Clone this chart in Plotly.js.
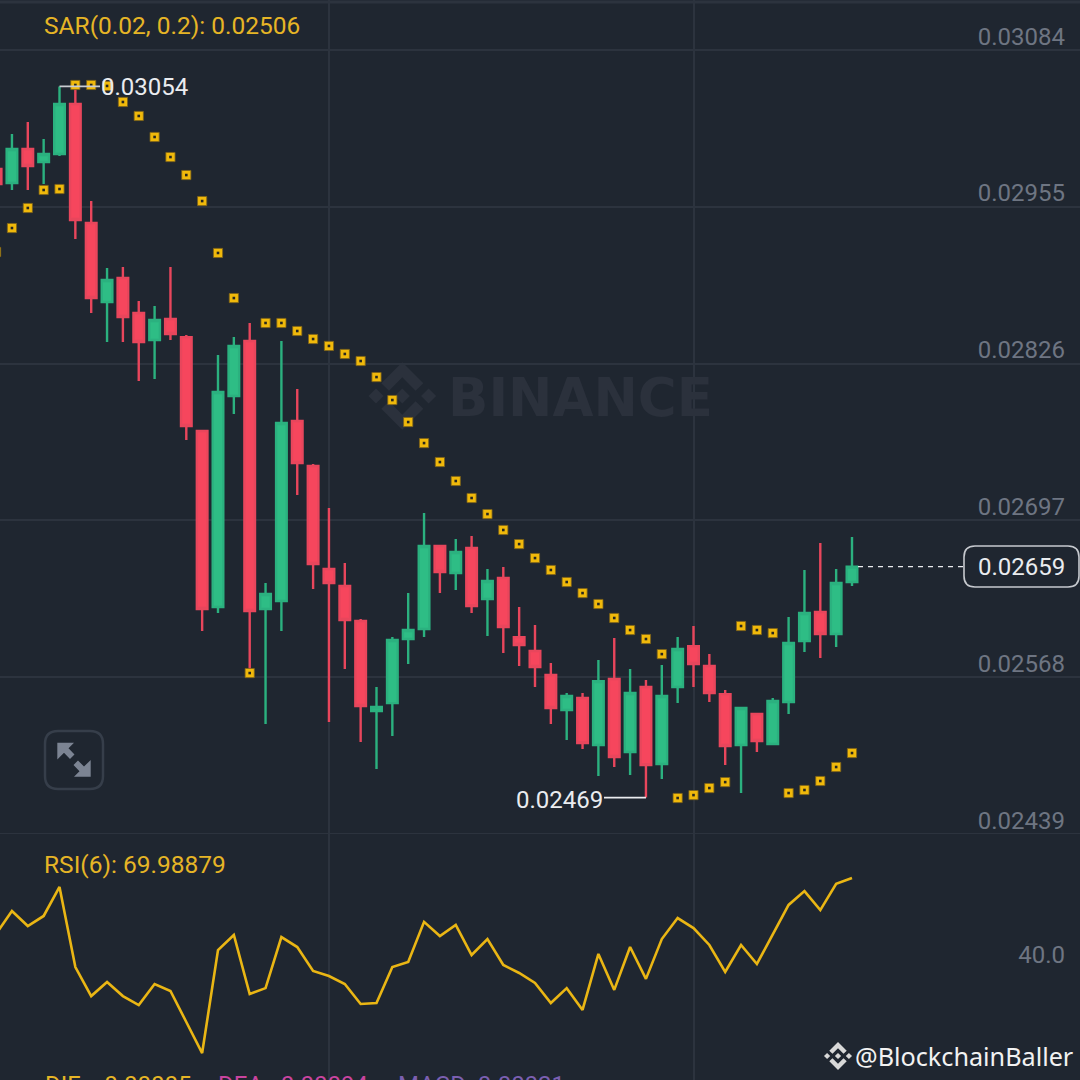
<!DOCTYPE html>
<html>
<head>
<meta charset="utf-8">
<script src="https://cdn.plot.ly/plotly-3.0.1.min.js"></script>
<style>html,body{margin:0;padding:0;background:#1f2630;overflow:hidden}#chart{width:1080px;height:1080px}</style>
</head>
<body>
<div id="chart"></div>
<script>
const opens = [0.029861,0.029746,0.030025,0.029918,0.029984,0.030395,0.029416,0.028766,0.028964,0.028676,0.028454,0.028627,0.028478,0.027705,0.026257,0.027993,0.028446,0.026241,0.026307,0.027787,0.027417,0.026570,0.026430,0.026142,0.025402,0.025467,0.025994,0.026076,0.026759,0.026537,0.026743,0.026323,0.026496,0.026010,0.025895,0.025698,0.025410,0.025509,0.025122,0.025665,0.025064,0.025599,0.024966,0.025599,0.025936,0.025772,0.025541,0.025122,0.025377,0.025130,0.025476,0.025977,0.026216,0.026035,0.026463];
const highs = [0.029935,0.030149,0.030247,0.030107,0.030540,0.030540,0.029597,0.029046,0.029054,0.028775,0.028734,0.029054,0.028495,0.027713,0.028330,0.028478,0.028594,0.026455,0.028446,0.028051,0.027434,0.027072,0.026619,0.026159,0.025599,0.026010,0.026372,0.027030,0.026767,0.026817,0.026841,0.026570,0.026586,0.026257,0.026109,0.025797,0.025550,0.025550,0.025821,0.026002,0.025747,0.025657,0.025780,0.026010,0.026101,0.025870,0.025574,0.025435,0.025385,0.025509,0.026175,0.026562,0.026784,0.026570,0.026833];
const lows = [0.029688,0.029688,0.029688,0.029737,0.029968,0.029285,0.028676,0.028437,0.028437,0.028116,0.028133,0.028454,0.027631,0.026060,0.026208,0.027845,0.025723,0.025295,0.026060,0.027179,0.026405,0.025311,0.025747,0.025147,0.024924,0.025196,0.025788,0.026010,0.026372,0.026397,0.026208,0.026019,0.025879,0.025772,0.025599,0.025295,0.025163,0.025089,0.024867,0.024941,0.024875,0.024690,0.024842,0.025467,0.025599,0.025476,0.024957,0.024727,0.025064,0.025122,0.025377,0.025887,0.025838,0.025928,0.026430];
const closes = [0.029737,0.030025,0.029885,0.029984,0.030395,0.029441,0.028799,0.028947,0.028643,0.028437,0.028618,0.028503,0.027746,0.026241,0.028026,0.028405,0.026224,0.026364,0.027771,0.027442,0.026611,0.026455,0.026150,0.025443,0.025435,0.025986,0.026068,0.026759,0.026545,0.026710,0.026265,0.026471,0.026093,0.025945,0.025764,0.025426,0.025525,0.025138,0.025648,0.025023,0.025550,0.024957,0.025525,0.025912,0.025788,0.025550,0.025114,0.025426,0.025155,0.025484,0.025961,0.026208,0.026035,0.026455,0.026590];
const sarValues = [0.029178,0.029375,0.029540,0.029688,0.029696,0.030552,0.030552,0.030544,0.030412,0.030297,0.030124,0.029959,0.029811,0.029597,0.029170,0.028799,0.025714,0.028594,0.028594,0.028528,0.028462,0.028405,0.028339,0.028281,0.028149,0.027960,0.027779,0.027606,0.027450,0.027294,0.027154,0.027022,0.026891,0.026775,0.026660,0.026562,0.026463,0.026372,0.026282,0.026167,0.026068,0.025994,0.025870,0.024686,0.024710,0.024768,0.024817,0.026101,0.026068,0.026043,0.024727,0.024752,0.024826,0.024941,0.025056];
const rsiValues = [48.2,57.1,51.3,55.2,66.5,35.3,24.0,29.5,24.0,20.5,28.7,26.0,13.9,1.8,41.9,47.8,24.8,27.1,47.0,43.1,33.8,31.8,28.7,20.9,21.3,35.3,37.3,52.9,47.4,51.7,40.0,46.2,36.1,33.0,29.1,21.3,27.1,18.6,40.4,26.4,43.1,30.7,46.2,54.4,50.5,43.9,33.4,43.9,36.5,47.8,59.5,64.9,57.5,67.7,69.99];
const priceTicks = [0.03084,0.02955,0.02826,0.02697,0.02568,0.02439];
const priceTickLabels = ["0.03084","0.02955","0.02826","0.02697","0.02568","0.02439"];
const rsiTicks = [40];
const rsiTickLabels = ["40.0"];
const timeGridIndex = [21,44];
const periodHigh = 0.03054, periodHighIndex = 4;
const periodLow = 0.02469, periodLowIndex = 41;
const lastPrice = 0.02659;

const BG='#1f2630', GRID='#2c333e', LABEL='#6e7582', YEL='#f0b90b', TXTYEL='#e6b526', UP='#2ebd85', DOWN='#f6465d', WHITE='#eaecef';
const W=1080,H=1080;
const px=(x,y)=>((x/W).toFixed(5)+','+(1-y/H).toFixed(5));
function poly(pts,cx,cy,s){return 'M'+pts.map(p=>px(cx+p[0]*s,cy+p[1]*s)).join(' L')+' Z';}
function logoPath(cx,cy,s){
  const d=(x,y,r)=>[[x,y-r],[x+r,y],[x,y+r],[x-r,y]];
  const top=[[0,-33.7],[21,-12.7],[13.3,-5.3],[0,-18.7],[-13.3,-5.3],[-21,-12.7]];
  const bot=top.map(p=>[p[0],-p[1]]);
  return [top,bot,d(0,0,7.5),d(-26.3,0,7.5),d(26.3,0,7.5)].map(a=>poly(a,cx,cy,s)).join(' ');
}
function roundRect(x0,y0,x1,y1,r){
  return 'M'+px(x0+r,y0)+' L'+px(x1-r,y0)+' Q'+px(x1,y0)+' '+px(x1,y0+r)+' L'+px(x1,y1-r)+' Q'+px(x1,y1)+' '+px(x1-r,y1)+' L'+px(x0+r,y1)+' Q'+px(x0,y1)+' '+px(x0,y1-r)+' L'+px(x0,y0+r)+' Q'+px(x0,y0)+' '+px(x0+r,y0)+' Z';
}
const idx=opens.map((_,i)=>i);
const xRange=[0.246,68.385];
const xAt=p=>xRange[0]+(p/W)*(xRange[1]-xRange[0]);

const traces=[
 {type:'candlestick',x:idx,open:opens,high:highs,low:lows,close:closes,xaxis:'x',yaxis:'y',whiskerwidth:0,
  increasing:{line:{color:'#2bb17f',width:2.4},fillcolor:UP},
  decreasing:{line:{color:'#e8465c',width:2.4},fillcolor:DOWN},hoverinfo:'skip'},
 {type:'scatter',mode:'markers',x:idx,y:sarValues,xaxis:'x',yaxis:'y',hoverinfo:'skip',
  marker:{symbol:'square',size:9.2,color:YEL,line:{color:'#7c621a',width:0.8}}},
 {type:'scatter',mode:'markers',x:idx,y:sarValues,xaxis:'x',yaxis:'y',hoverinfo:'skip',
  marker:{symbol:'square',size:2.6,color:'#26261f',line:{width:0}}},
 {type:'scatter',mode:'lines',x:idx,y:rsiValues,xaxis:'x2',yaxis:'y2',hoverinfo:'skip',
  line:{color:'#eab614',width:2.6,shape:'linear'}}
];

const axisX={range:xRange,type:'linear',showticklabels:false,ticks:'',tickvals:timeGridIndex,showgrid:true,gridcolor:GRID,gridwidth:2,zeroline:false,showline:false,fixedrange:true,rangeslider:{visible:false}};
const layout={
 width:W,height:H,paper_bgcolor:BG,plot_bgcolor:BG,showlegend:false,margin:{l:0,r:0,t:0,b:0},
 boxgap:0.33,boxgroupgap:0,
 font:{family:'Roboto, sans-serif'},
 xaxis:Object.assign({},axisX,{domain:[0,1],anchor:'y'}),
 xaxis2:Object.assign({},axisX,{domain:[0,1],anchor:'y2'}),
 yaxis:{domain:[234/1080,1],range:[0.0242913,0.031251],tickmode:'array',tickvals:priceTicks,ticktext:priceTickLabels,side:'right',anchor:'x',
   ticklabelposition:'inside top',ticklabelstandoff:12,ticklabelshift:3,ticks:'',showgrid:true,gridcolor:GRID,gridwidth:2,zeroline:false,showline:false,
   tickfont:{family:'Roboto, sans-serif',size:24,color:LABEL},fixedrange:true},
 yaxis2:{domain:[0,246/1080],range:[-8.69,87.13],tickmode:'array',tickvals:rsiTicks,ticktext:rsiTickLabels,side:'right',anchor:'x2',
   ticklabelposition:'inside',ticklabelstandoff:12,ticks:'',showgrid:false,zeroline:false,showline:false,
   tickfont:{family:'Roboto, sans-serif',size:24,color:LABEL},fixedrange:true},
 shapes:[
  {type:'line',xref:'paper',yref:'paper',x0:0,x1:1,y0:1-2/H,y1:1-2/H,line:{color:GRID,width:3},layer:'below'},
  {type:'line',xref:'paper',yref:'y2',x0:0,x1:1,y0:1.83,y1:1.83,line:{color:GRID,width:2},layer:'below'},
  {type:'path',xref:'paper',yref:'paper',path:logoPath(402.3,396,1),fillcolor:'#2b313c',line:{width:0},layer:'below'},
  {type:'path',xref:'paper',yref:'paper',path:roundRect(45,731,103,789,13),fillcolor:'rgba(0,0,0,0)',line:{color:'#363e4a',width:2.5}},
  {type:'path',xref:'paper',yref:'paper',path:poly([[57.3,742.7],[74,742.7],[68.5,748.2],[74.5,754.5],[70,759],[64,752.8],[57.3,759.5]],0,0,1)+' '+poly([[90.7,776.7],[74,776.7],[79.5,771.2],[73.5,765],[78,760.5],[84,766.6],[90.7,760]],0,0,1),fillcolor:'#7c8493',line:{width:0}},
  {type:'line',xref:'x',yref:'y',x0:periodHighIndex,x1:xAt(100),y0:periodHigh,y1:periodHigh,line:{color:'#c9ccd1',width:1.8}},
  {type:'line',xref:'x',yref:'y',x0:xAt(604),x1:periodLowIndex,y0:periodLow,y1:periodLow,line:{color:WHITE,width:1.8}},
  {type:'line',xref:'x',yref:'y',x0:xAt(858),x1:xAt(964),y0:lastPrice,y1:lastPrice,line:{color:WHITE,width:1.4,dash:'5px,5px'}},
  {type:'path',xref:'paper',yref:'paper',path:roundRect(964,546,1079,587,11),fillcolor:BG,line:{color:'#c6c9ce',width:1.6}},
  {type:'path',xref:'paper',yref:'paper',path:logoPath(838,1056,0.415),fillcolor:'#d8d8d8',line:{width:0}}
 ],
 annotations:[
  {xref:'paper',yref:'paper',x:42/W,y:1-26/H,xanchor:'left',yanchor:'middle',showarrow:false,text:'SAR(0.02, 0.2): 0.02506',font:{size:24.5,color:TXTYEL}},
  {xref:'paper',yref:'paper',x:42/W,y:1-864/H,xanchor:'left',yanchor:'middle',showarrow:false,text:'RSI(6): 69.98879',font:{size:24.5,color:TXTYEL}},
  {xref:'x',yref:'y',x:xAt(100),y:periodHigh,yshift:-1,xanchor:'left',yanchor:'middle',showarrow:false,text:'0.03054',font:{size:24,color:WHITE},borderpad:0},
  {xref:'x',yref:'y',x:xAt(604),y:periodLow,yshift:-2,xanchor:'right',yanchor:'middle',showarrow:false,text:'0.02469',font:{size:24,color:WHITE},borderpad:0},
  {xref:'paper',yref:'paper',x:1066/W,y:1-567/H,xanchor:'right',yanchor:'middle',showarrow:false,text:'0.02659',font:{size:24,color:WHITE},borderpad:0},
  {xref:'paper',yref:'paper',x:446/W,y:1-397/H,xanchor:'left',yanchor:'middle',showarrow:false,text:'BINANCE',font:{family:'DejaVu Sans, sans-serif',size:53,color:'#2b313c',weight:700}},
  {xref:'paper',yref:'paper',x:853/W,y:1-1056/H,xanchor:'left',yanchor:'middle',showarrow:false,text:'@BlockchainBaller',font:{family:'Noto Sans, sans-serif',size:25.2,color:'#f2f2f2'}},
  {xref:'paper',yref:'paper',x:43/W,y:1-1085/H,xanchor:'left',yanchor:'middle',showarrow:false,text:'DIF:\u00a0\u00a0\u00a00.00005',font:{size:24,color:TXTYEL}},
  {xref:'paper',yref:'paper',x:216/W,y:1-1085/H,xanchor:'left',yanchor:'middle',showarrow:false,text:'DEA:\u00a0\u00a00.00094',font:{size:24,color:'#c9449f'}},
  {xref:'paper',yref:'paper',x:396/W,y:1-1085/H,xanchor:'left',yanchor:'middle',showarrow:false,text:'MACD:\u00a00.00021',font:{size:24,color:'#7b5fb0'}}
 ]
};
Plotly.newPlot('chart',traces,layout,{displayModeBar:false,staticPlot:true});
</script>
</body>
</html>
